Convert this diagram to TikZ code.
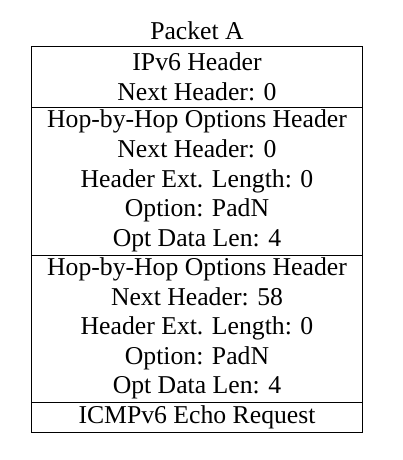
\documentclass[tikz,border=0pt]{standalone}
\usepackage{fontspec}
\setmainfont{Liberation Serif}
\usetikzlibrary{positioning}
\tikzset{
every node/.style={font=\fontsize{25.7}{29.6}\selectfont}, % one size for all the text
header/.style={draw=black, line width=1pt, minimum width=331pt, inner sep=0pt, outer sep=0pt, align=center}, % one block of the packet
}

\begin{document}
\begin{tikzpicture}[x=1pt,y=-1pt]
      \useasboundingbox (0,0) rectangle (402,460);
      \node[header, minimum height=60pt, anchor=north] (ipv6) at (197,47) {IPv6 Header\\Next Header: 0};
      \node[above=7pt of ipv6, inner sep=0pt] (title) {Packet A};
      \node[header, minimum height=148pt, below=0pt of ipv6] (hbh1) {Hop-by-Hop Options Header\\Next Header: 0\\Header Ext. Length: 0\\Option: PadN\\Opt Data Len: 4};
      \node[header, minimum height=147pt, below=0pt of hbh1] (hbh2) {Hop-by-Hop Options Header\\Next Header: 58\\Header Ext. Length: 0\\Option: PadN\\Opt Data Len: 4};
      \node[header, minimum height=30pt, below=0pt of hbh2] (icmp) {ICMPv6 Echo Request};
    \end{tikzpicture}
\end{document}
